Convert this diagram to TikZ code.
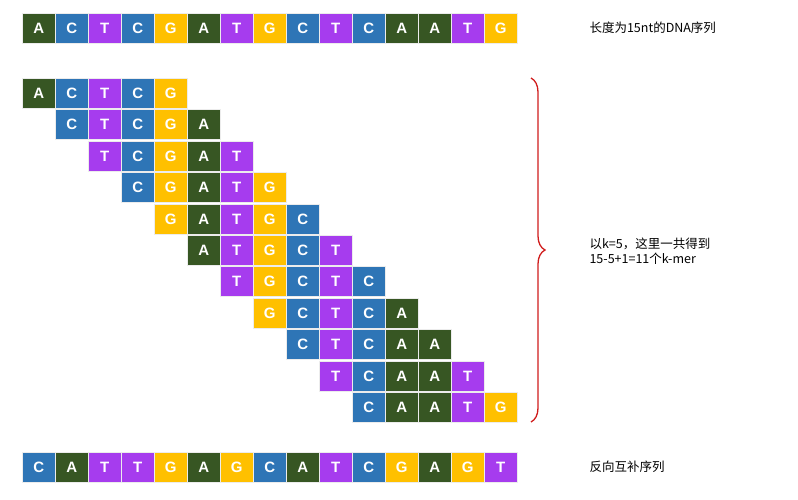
\documentclass[tikz,border=0pt]{standalone}
\usepackage{fontspec}
\setmainfont{Liberation Sans}
\newfontfamily\cjk{Noto Sans CJK SC}
\usetikzlibrary{decorations.pathreplacing}
\definecolor{cA}{HTML}{375623}
\definecolor{cC}{HTML}{2E75B6}
\definecolor{cT}{HTML}{A63CEE}
\definecolor{cG}{HTML}{FFC000}
\definecolor{bR}{HTML}{D01C1C}
\tikzset{base/.style={draw=white!85!gray,line width=0.6pt,minimum width=33pt,minimum height=30pt,inner sep=0pt,text=white,font=\bfseries\fontsize{15}{15}\selectfont,anchor=north west},
A/.style={base,fill=cA},C/.style={base,fill=cC},T/.style={base,fill=cT},G/.style={base,fill=cG},
lbl/.style={anchor=west,font=\cjk\fontsize{12.5}{15}\selectfont,align=left}}
\newcommand\seqrow[4]{% name, x, y, sequence
  \foreach \ch [count=\i] in {#4}{\node[\ch] (#1-\i) at ({#2+33*(\i-1)},#3) {\ch};}}
\begin{document}
\begin{tikzpicture}[x=1pt,y=-1pt]
\useasboundingbox (0,0) rectangle (798,500);
\seqrow{top}{22}{13}{A,C,T,C,G,A,T,G,C,T,C,A,A,T,G}
\def\full{{"A","C","T","C","G","A","T","G","C","T","C","A","A","T","G"}}
\foreach \r in {0,...,10}{
  \foreach \j in {0,...,4}{
    \pgfmathsetmacro\ch{\full[\r+\j]}
    \node[\ch] (k\r-\j) at ({22+33*(\r+\j)},{78+31.4*\r}) {\ch};
  }
}
\seqrow{rev}{22}{452}{C,A,T,T,G,A,G,C,A,T,C,G,A,G,T}
\node[lbl] (t1) at (586,28) {长度为15nt的DNA序列};
\coordinate (b1) at (531,78);
\coordinate (b2) at (531,422);
\draw[bR,line width=1.3pt,decorate,decoration={brace,amplitude=14pt,raise=0pt}] (b1) -- (b2);
\node[lbl] (t2) at (586,251) {以k=5，这里一共得到\\15-5+1=11个k-mer};
\node[lbl] (t3) at (586,467) {反向互补序列};
\end{tikzpicture}
\end{document}
